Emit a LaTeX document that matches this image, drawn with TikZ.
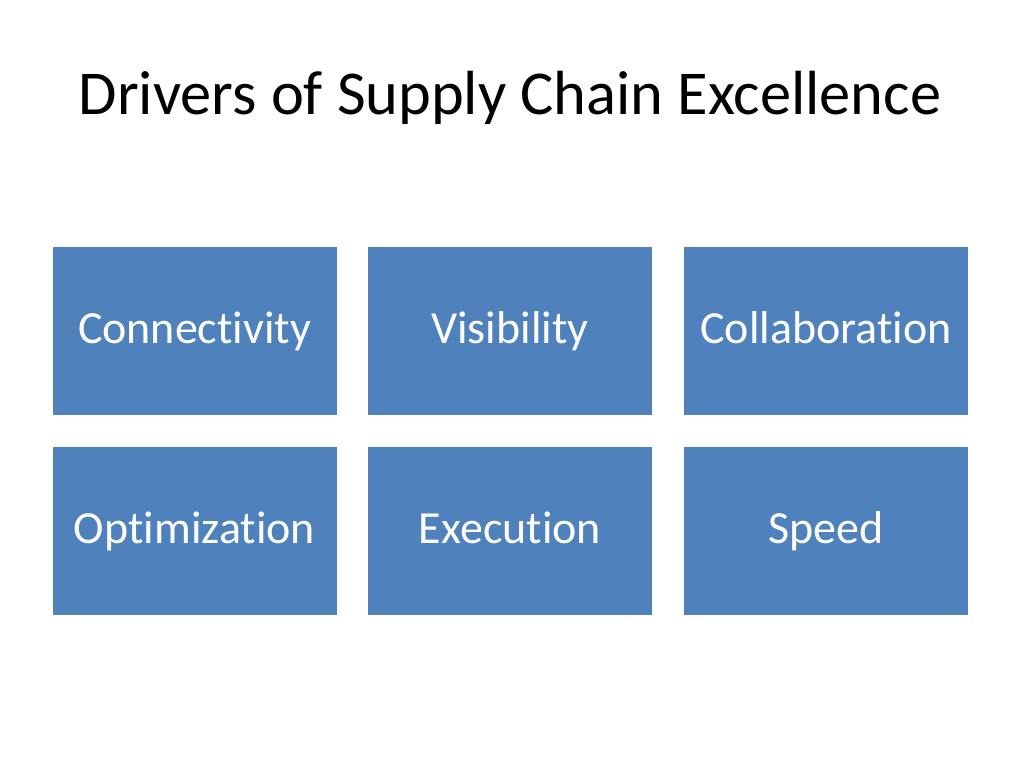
\documentclass[tikz,border=0pt]{standalone}
\usepackage{fontspec}
\setmainfont{Carlito}[Ligatures={NoCommon}]
\definecolor{boxblue}{HTML}{4F81BD}
\tikzset{
  driver/.style={fill=boxblue, minimum width=284pt, minimum height=168pt,
    inner sep=0pt, text height=32pt, text depth=8pt, text=white,
    font=\fontsize{46}{55}\selectfont},
}
\begin{document}
\begin{tikzpicture}[x=1pt, y=-1pt]
  \useasboundingbox (0,0) rectangle (1020,765);
  % Title
  \node[anchor=base, font=\fontsize{62.4}{74}\selectfont] (title) at (510,115)
    {Drivers of Supply Chain Excellence};
  % Top row
  \node[driver] (conn) at (194.5,331) {Connectivity};
  \node[driver] (vis) at (510,331) {Visibility};
  \node[driver] (coll) at (826,331) {Collaboration};
  % Bottom row
  \node[driver] (opt) at (194.5,531) {Optimization};
  \node[driver] (exec) at (510,531) {Execution};
  \node[driver] (speed) at (826,531) {Speed};
\end{tikzpicture}
\end{document}
